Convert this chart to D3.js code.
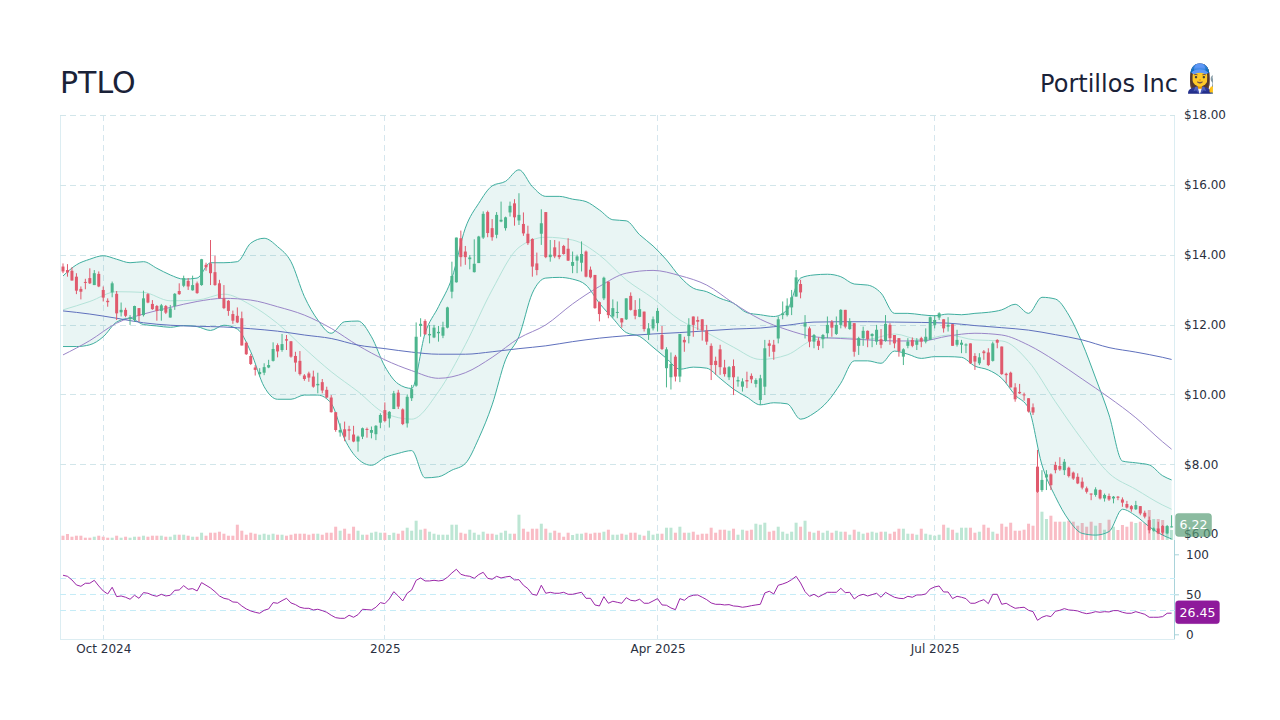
<!DOCTYPE html>
<html>
<head>
<meta charset="utf-8">
<style>
  html, body { margin: 0; padding: 0; background: #fff; }
  svg { display: block; font-family: "DejaVu Sans", sans-serif; }
  .domain { display: none; }
</style>
<script src="https://cdn.jsdelivr.net/npm/d3@7"></script>
</head>
<body>
<svg id="chart" width="1280" height="720"></svg>
<script>
const ticker = "PTLO";
const company = "Portillos Inc";
const emoji = "👩‍🔧";

const dateTicks = [9, 72, 133, 195];
const dateLabels = ["Oct 2024", "2025", "Apr 2025", "Jul 2025"];
const priceTicks = [6, 8, 10, 12, 14, 16, 18];
const rsiTicks = [0, 50, 100];
const rsiGrid = [30, 50, 70];

// daily candles, 249 sessions
const opens = [
  13.66,13.56,13.54,13.37,13.02,13.22,13.33,13.13,13.45,12.99,
  12.68,12.92,12.88,12.35,12.42,12.15,12.13,12.47,12.27,12.87,
  12.59,12.53,12.39,12.53,12.20,12.53,12.96,13.11,13.25,12.98,
  13.18,13.13,13.71,13.75,13.50,13.18,12.75,12.68,12.30,12.25,
  12.18,11.48,11.10,10.77,10.58,10.62,10.77,10.96,11.41,11.27,
  11.58,11.52,11.10,10.96,10.54,10.60,10.51,10.26,10.35,10.13,
  9.91,9.49,8.91,9.00,9.00,8.85,8.65,8.79,9.01,8.90,
  8.86,9.19,9.55,9.31,9.58,10.05,9.57,9.17,9.89,10.25,
  11.96,12.10,11.69,11.63,11.75,11.68,11.91,12.94,13.21,14.47,
  14.09,13.87,13.50,13.76,14.49,15.22,14.76,14.57,14.95,14.76,
  15.21,15.47,14.98,14.88,14.60,14.45,13.75,14.60,15.22,13.93,
  14.21,13.99,14.25,14.17,13.68,13.83,13.77,14.09,13.57,13.42,
  12.64,12.75,13.23,12.23,12.34,12.18,12.15,12.82,12.42,12.22,
  12.37,11.70,11.89,12.04,11.70,10.75,10.49,11.08,10.51,11.56,
  11.67,12.23,12.13,12.15,11.83,11.39,10.96,11.29,10.77,10.49,
  10.81,10.37,10.22,10.41,10.53,10.30,9.84,10.22,11.46,11.42,
  11.60,12.27,12.27,12.49,12.80,13.16,11.94,11.89,11.51,11.54,
  11.58,11.75,12.08,11.73,11.99,12.42,11.87,12.04,11.39,11.61,
  11.82,11.67,11.51,11.58,11.53,11.99,11.70,11.61,11.08,11.39,
  11.56,11.42,11.61,11.51,11.56,11.99,12.20,12.15,11.94,12.01,
  11.42,11.42,11.40,11.46,11.10,10.89,11.23,11.20,10.96,11.56,
  11.37,10.59,10.62,10.20,10.07,10.00,9.89,9.63,7.93,7.26,
  7.62,7.71,7.98,7.95,7.83,7.90,7.76,7.64,7.50,7.31,
  7.16,7.12,7.26,7.02,7.09,7.02,7.07,6.99,6.86,6.80,
  6.71,6.80,6.61,6.40,6.10,6.16,6.23,6.02,6.21
];
const highs = [
  13.75,13.73,13.64,13.47,13.09,13.31,13.61,13.56,13.52,13.09,
  12.75,13.23,12.96,12.63,12.48,12.27,12.54,12.47,12.97,12.90,
  12.70,12.56,12.59,12.56,12.56,12.90,13.18,13.40,13.33,13.40,
  13.23,13.88,13.77,14.42,13.97,13.28,13.13,12.70,12.40,12.49,
  12.37,11.51,11.16,10.84,10.75,10.89,10.99,11.49,11.46,11.73,
  11.70,11.53,11.22,11.24,10.58,10.65,10.68,10.62,10.44,10.22,
  9.98,9.49,9.17,9.22,9.10,9.10,8.82,9.05,9.05,9.08,
  9.12,9.46,9.77,9.52,10.10,10.13,9.60,10.00,10.27,12.06,
  12.18,12.15,11.99,11.99,11.96,12.08,12.51,13.80,14.49,14.69,
  14.25,13.99,14.44,14.54,15.24,15.26,15.02,15.22,15.52,15.09,
  15.52,15.59,15.76,15.21,14.83,14.47,14.06,15.30,15.22,14.42,
  14.42,14.38,14.28,14.47,14.09,14.00,14.38,14.12,13.66,13.42,
  12.66,13.37,13.23,12.72,12.66,12.18,12.75,12.92,12.70,12.75,
  12.37,12.04,12.23,12.47,11.96,11.35,11.20,11.13,11.73,11.65,
  12.18,12.23,12.23,12.15,11.99,11.46,11.08,11.42,10.99,10.81,
  11.00,10.51,10.46,10.65,10.60,10.46,10.56,11.56,11.56,11.56,
  12.23,12.66,12.75,12.99,13.56,13.28,12.27,11.94,11.73,11.63,
  11.73,12.23,12.13,12.23,12.44,12.42,12.18,12.04,11.65,11.94,
  11.83,11.75,11.99,11.87,12.27,12.04,11.70,11.61,11.32,11.61,
  11.63,11.61,11.65,11.89,12.23,12.27,12.35,12.15,12.21,12.01,
  11.85,11.56,11.46,11.46,11.18,11.18,11.27,11.32,11.51,11.58,
  11.37,10.62,10.65,10.32,10.30,10.05,9.89,9.74,8.41,7.83,
  7.83,7.74,8.07,8.20,8.15,7.93,7.79,7.74,7.62,7.36,
  7.16,7.34,7.28,7.16,7.16,7.09,7.09,7.05,6.95,6.83,
  6.95,6.80,6.67,6.50,6.19,6.35,6.26,6.26,6.54
];
const lows = [
  13.47,13.37,13.26,12.87,12.72,13.01,13.16,13.13,13.07,12.66,
  12.51,12.78,12.13,12.23,12.21,11.99,12.08,12.08,12.23,12.61,
  12.42,12.11,12.11,12.30,12.20,12.42,12.85,13.07,12.99,12.97,
  12.88,13.11,13.54,13.13,13.11,12.75,12.44,12.25,12.02,12.04,
  11.40,11.13,10.84,10.54,10.51,10.55,10.75,10.94,11.06,11.22,
  11.27,11.05,10.65,10.54,10.39,10.36,10.19,10.03,10.03,9.89,
  9.48,8.93,8.79,8.66,8.69,8.63,8.36,8.72,8.76,8.74,
  8.69,9.03,9.20,9.05,9.58,9.58,9.12,9.05,9.81,10.22,
  11.65,11.71,11.46,11.61,11.51,11.61,11.89,12.75,13.20,13.66,
  13.71,13.58,13.49,13.76,14.45,14.50,14.40,14.47,14.93,14.69,
  15.09,14.83,14.85,14.54,14.28,13.37,13.41,14.28,13.90,13.80,
  13.90,13.87,14.00,13.82,13.47,13.47,13.52,13.35,13.32,12.45,
  12.09,12.70,12.18,12.18,12.18,11.91,12.13,12.40,12.15,12.21,
  11.80,11.56,11.83,11.80,11.27,10.20,10.14,10.37,10.35,11.22,
  11.46,11.65,11.84,11.54,11.42,10.41,10.56,10.56,10.51,10.41,
  9.98,10.22,10.08,10.18,10.32,10.20,9.70,9.98,11.08,10.99,
  11.46,12.15,12.23,12.27,12.80,12.75,11.60,11.35,11.32,11.27,
  11.32,11.61,11.65,11.70,11.89,11.89,11.85,11.08,11.13,11.39,
  11.35,11.35,11.42,11.32,11.51,11.42,11.32,11.08,10.84,11.32,
  11.35,11.27,11.35,11.46,11.56,11.89,12.13,11.77,11.80,11.39,
  11.37,11.18,11.18,10.87,10.70,10.84,10.99,10.81,10.94,11.32,
  10.56,10.32,10.20,9.79,10.01,9.82,9.48,9.41,7.18,7.21,
  7.26,7.26,7.74,7.81,7.69,7.62,7.55,7.43,7.28,7.16,
  6.97,7.07,6.99,6.93,6.95,6.88,6.97,6.78,6.73,6.64,
  6.69,6.54,6.45,6.02,6.07,6.00,5.97,6.00,6.19
];
const closes = [
  13.52,13.49,13.26,12.97,12.94,13.20,13.18,13.47,13.09,12.77,
  12.64,13.18,12.32,12.42,12.25,12.21,12.53,12.25,12.75,12.63,
  12.44,12.39,12.55,12.34,12.46,12.88,12.87,13.33,13.09,13.13,
  12.90,13.87,13.64,13.47,13.13,12.75,12.47,12.39,12.11,12.06,
  11.40,11.15,10.87,10.70,10.64,10.78,10.84,11.30,11.23,11.44,
  11.54,11.08,10.91,10.58,10.44,10.48,10.22,10.30,10.11,9.91,
  9.49,8.98,8.98,8.79,8.96,8.65,8.79,9.03,8.99,8.98,
  9.10,9.41,9.24,9.50,10.03,9.65,9.15,9.93,10.15,11.65,
  12.02,11.72,11.73,11.91,11.79,11.92,12.49,13.39,14.49,13.93,
  13.93,13.92,13.74,14.52,15.17,14.62,14.50,15.14,15.00,15.07,
  15.40,15.07,15.14,14.61,14.33,13.66,13.56,14.90,13.93,14.00,
  13.95,13.93,14.02,13.83,13.79,13.95,14.02,13.37,13.35,12.47,
  12.30,13.34,12.27,12.47,12.36,12.06,12.75,12.42,12.25,12.44,
  11.87,11.89,12.15,12.39,11.30,11.29,10.87,10.51,11.73,11.49,
  11.99,11.99,12.08,11.83,11.51,10.84,10.84,10.78,10.58,10.78,
  10.49,10.41,10.37,10.37,10.43,10.41,10.46,11.32,11.39,11.22,
  12.15,12.32,12.54,12.78,13.35,12.92,12.04,11.51,11.70,11.39,
  11.70,11.99,11.91,11.99,12.42,11.94,12.10,11.22,11.61,11.82,
  11.58,11.73,11.85,11.42,12.02,11.61,11.46,11.24,11.29,11.51,
  11.39,11.54,11.51,11.65,12.21,12.13,12.32,11.89,11.99,11.39,
  11.56,11.48,11.43,10.89,10.94,11.06,11.18,10.84,11.46,11.48,
  10.58,10.55,10.20,9.86,10.03,9.97,9.51,9.48,7.21,7.55,
  7.71,7.40,7.83,7.85,8.07,7.66,7.59,7.45,7.33,7.21,
  7.14,7.28,7.02,7.12,6.99,7.07,7.04,6.90,6.76,6.71,
  6.83,6.59,6.50,6.11,6.16,6.02,6.04,6.23,6.22
];
const volumes = [
  43,60,33,43,43,23,23,33,43,33,
  23,23,43,23,33,23,33,33,43,33,
  43,43,43,33,33,53,53,53,43,33,
  33,73,43,73,73,83,63,43,43,153,
  93,53,73,63,53,63,53,63,53,53,
  43,53,63,63,63,53,63,63,53,73,
  73,133,93,113,63,133,93,53,53,73,
  83,73,73,50,73,63,93,123,93,193,
  103,113,83,63,53,53,53,153,153,73,
  63,103,73,53,83,63,63,53,73,93,
  63,63,253,113,83,113,113,163,113,73,
  93,73,33,73,50,63,63,73,63,73,
  73,83,103,53,53,63,53,73,73,53,
  43,93,53,63,63,123,123,73,133,73,
  73,83,53,63,63,123,73,103,103,93,
  113,53,103,93,103,163,153,173,83,93,
  133,83,63,83,173,133,193,83,73,93,
  73,93,73,93,83,83,53,103,83,63,
  73,83,73,83,83,63,83,113,113,63,
  63,53,113,63,53,43,53,153,123,103,
  73,123,123,123,73,83,153,123,83,63,
  163,133,173,93,93,103,163,143,730,283,
  210,243,183,183,183,193,183,143,170,133,
  183,143,170,103,203,133,100,150,133,183,
  170,183,167,300,210,210,200,133,100
];
const rsi = [
  73.8,72.5,67.9,61.7,60.0,63.8,63.8,67.5,60.4,54.2,
  50.4,58.8,47.1,47.9,46.3,43.8,48.8,45.0,52.1,51.3,
  48.8,47.5,50.0,47.9,48.8,55.0,55.4,60.8,56.3,57.1,
  54.2,64.6,61.3,57.9,53.3,47.9,45.0,43.8,40.4,40.0,
  35.4,31.7,29.2,27.5,26.3,30.0,31.7,39.6,38.8,42.1,
  45.0,39.2,37.1,33.8,32.5,32.5,30.4,31.3,29.6,27.5,
  23.8,20.8,20.0,20.0,23.8,21.3,24.6,31.3,30.8,30.4,
  33.8,39.6,38.3,44.2,53.3,47.9,41.7,51.3,55.4,67.5,
  70.4,66.7,66.7,67.5,66.7,67.5,71.3,76.7,81.3,75.0,
  73.3,72.5,70.0,74.6,77.5,70.0,68.8,72.5,70.4,71.7,
  72.5,67.9,68.3,61.3,57.1,50.0,48.8,61.3,51.3,52.5,
  51.3,51.3,52.5,50.0,50.0,51.3,52.5,45.0,45.0,36.7,
  35.4,47.1,38.8,41.3,40.0,38.8,45.8,42.5,41.7,43.8,
  38.8,38.8,41.7,44.6,36.7,36.3,32.9,30.8,44.6,42.5,
  47.1,48.8,49.2,46.3,43.3,39.2,37.5,37.5,36.7,37.1,
  35.4,35.0,33.8,34.6,35.8,36.7,37.5,51.7,53.8,50.4,
  61.3,62.9,65.0,68.3,72.5,64.2,53.3,47.5,50.0,46.7,
  49.6,52.5,52.5,52.5,57.5,52.1,52.5,44.2,48.3,50.0,
  47.9,49.6,51.3,46.3,52.5,49.2,46.3,45.0,44.6,47.5,
  46.3,49.2,49.2,50.4,56.7,59.2,60.4,52.9,52.9,44.6,
  47.5,46.3,44.6,38.8,38.8,41.3,43.3,38.3,50.0,50.0,
  37.5,38.8,35.4,32.5,33.3,33.8,30.0,28.3,17.5,21.3,
  23.3,22.1,28.8,30.0,32.1,30.4,30.0,29.2,27.1,25.8,
  26.7,28.3,27.5,28.3,27.9,29.6,29.6,27.5,26.3,26.3,
  28.3,26.7,25.0,21.3,21.3,21.3,22.1,26.3,26.45
];

// bollinger bands, read every third session plus the last one
const bandUpper = [
  13.39,13.71,13.87,13.97,13.87,13.77,13.80,13.61,13.42,13.30,
  13.33,13.77,13.77,13.80,14.33,14.47,14.23,13.80,12.80,12.13,
  11.75,12.08,12.10,11.65,10.80,10.30,10.17,11.75,12.51,13.33,
  14.76,15.47,15.97,16.10,16.43,15.95,15.67,15.67,15.59,15.52,
  15.28,15.00,14.97,14.57,14.25,13.85,13.37,13.04,12.94,12.75,
  12.61,12.34,12.28,12.23,12.42,13.33,13.42,13.44,13.37,13.16,
  13.13,12.90,12.32,12.32,12.28,12.25,12.30,12.28,12.32,12.35,
  12.42,12.58,12.32,12.78,12.73,12.27,11.47,10.47,9.41,8.09,
  8.04,7.98,7.67,7.55
];
const bandLower = [
  11.37,11.37,11.42,11.65,12.07,12.18,12.00,11.96,11.92,11.97,
  11.94,11.83,11.98,11.87,11.22,10.22,9.86,9.86,9.98,9.98,
  9.74,8.72,8.15,7.97,8.19,8.31,8.39,7.61,7.64,7.83,
  8.02,8.74,9.70,10.99,11.66,12.90,13.33,13.35,13.30,13.13,
  12.61,12.18,11.77,11.66,11.35,11.03,10.72,10.78,10.75,10.46,
  10.15,9.92,9.70,9.76,9.73,9.29,9.46,9.79,10.32,10.96,
  10.96,10.89,11.24,11.15,11.03,11.08,11.08,11.06,10.81,10.70,
  10.46,9.98,9.60,7.98,7.07,6.40,6.02,5.97,6.07,6.71,
  6.52,6.21,5.97,5.86
];

// moving averages, read every sixth session plus the last one
const bandMid = [
  12.42,12.66,12.94,12.92,12.68,12.70,12.87,12.56,12.03,11.32,
  10.65,10.08,9.46,9.29,10.08,11.42,12.99,14.21,14.50,14.42,
  13.99,13.28,12.75,12.13,11.77,11.35,11.00,11.13,11.56,11.63,
  11.58,11.73,11.56,11.70,11.56,11.53,10.94,9.79,8.70,7.74,
  7.28,6.83,6.71
];
const sma50 = [
  11.13,11.54,12.04,12.30,12.49,12.66,12.75,12.70,12.51,12.27,
  11.89,11.40,10.99,10.68,10.46,10.62,11.06,11.61,11.99,12.59,
  13.09,13.47,13.55,13.40,13.13,12.61,12.15,11.85,11.65,11.60,
  11.56,11.53,11.53,11.67,11.75,11.70,11.41,10.96,10.44,9.91,
  9.33,8.64,8.43
];
const sma200 = [
  12.39,12.30,12.18,12.05,11.98,11.95,11.93,11.88,11.81,11.70,
  11.60,11.41,11.31,11.21,11.15,11.15,11.22,11.31,11.39,11.51,
  11.61,11.68,11.73,11.77,11.82,11.87,11.90,11.98,12.07,12.08,
  12.08,12.07,12.06,12.04,11.97,11.91,11.84,11.71,11.56,11.34,
  11.21,11.06,11.00
];

const lastPrice = 6.22;
const lastRsi = 26.45;

const bandIdx = d3.range(0, 249, 3).concat(248);
const avgIdx = d3.range(0, 249, 6).concat(248);

const left = 60, right = 1175, priceTop = 115, priceBottom = 540, rsiBottom = 639;
const green = "#4cb58d", red = "#e05a6d";

const svg = d3.select("#chart");
const x = d3.scaleLinear().domain([0, 248]).range([63, 1171.6]);
const yPrice = d3.scaleLinear().domain([5.83, 18]).range([priceBottom, priceTop]);
const yVol = d3.scaleLinear().domain([0, 4250]).range([priceBottom, priceTop]);
const yRsi = d3.scaleLinear().domain([0, 100]).range([634.3, 554.3]);

// Title
svg.append("text").attr("x", 60).attr("y", 93).attr("font-size", 30)
    .attr("fill", "#1a2238").text(ticker);
svg.append("text").attr("x", 1178).attr("y", 92).attr("font-size", 24).attr("text-anchor", "end")
    .attr("fill", "#1a2238").text(company);
// the wrench of this glyph is cut off, the reference figure has none
svg.append("clipPath").attr("id", "emoji-clip").append("rect")
    .attr("x", 1185).attr("y", 60).attr("width", 28).attr("height", 40);
svg.append("text").attr("x", 1186.3).attr("y", 87.6).attr("font-size", 28)
    .attr("clip-path", "url(#emoji-clip)").text(emoji);

// Frame
const frame = svg.append("g").attr("fill", "none");
frame.append("line").attr("x1", left + 0.5).attr("x2", left + 0.5).attr("y1", priceTop).attr("y2", rsiBottom).attr("stroke", "#dcedf2");
frame.append("line").attr("x1", left).attr("x2", right).attr("y1", rsiBottom + 0.5).attr("y2", rsiBottom + 0.5).attr("stroke", "#dcedf2");
frame.append("line").attr("x1", right - 0.5).attr("x2", right - 0.5).attr("y1", priceTop).attr("y2", priceBottom).attr("stroke", "#dcedf2");
frame.append("line").attr("x1", right - 0.5).attr("x2", right - 0.5).attr("y1", priceBottom).attr("y2", rsiBottom).attr("stroke", "#a9d3da");

// Grid
const grid = svg.append("g").attr("fill", "none").attr("stroke-dasharray", "6,4");
grid.selectAll("line.v").data(dateTicks).join("line").attr("class", "v")
    .attr("x1", (d) => Math.floor(x(d)) + 0.5).attr("x2", (d) => Math.floor(x(d)) + 0.5)
    .attr("y1", priceTop).attr("y2", rsiBottom).attr("stroke", "#d5e6ee");
grid.selectAll("line.h").data(priceTicks.filter((d) => d > 6)).join("line").attr("class", "h")
    .attr("x1", left).attr("x2", right)
    .attr("y1", (d) => Math.round(yPrice(d)) + 0.5).attr("y2", (d) => Math.round(yPrice(d)) + 0.5)
    .attr("stroke", "#d2e6ea");
grid.selectAll("line.r").data(rsiGrid).join("line").attr("class", "r")
    .attr("x1", left).attr("x2", right)
    .attr("y1", (d) => Math.round(yRsi(d)) + 0.5).attr("y2", (d) => Math.round(yRsi(d)) + 0.5)
    .attr("stroke", "#c6ecf7");

// Volume
svg.append("g").selectAll("rect").data(volumes).join("rect")
    .attr("x", (d, i) => x(i) - 1.5)
    .attr("width", 3)
    .attr("y", (d) => yVol(d))
    .attr("height", (d) => priceBottom - yVol(d))
    .attr("fill", (d, i) => (closes[i] >= opens[i] ? "#bde6d4" : "#f9bcc5"));

// Bollinger band
const bandLine = (values, idx) => d3.line().curve(d3.curveMonotoneX)
    .x((d, k) => x(idx[k])).y((d) => yPrice(d))(values);
svg.append("path")
    .attr("d", d3.area().curve(d3.curveMonotoneX).x((d) => x(d))
        .y0((d, k) => yPrice(bandLower[k])).y1((d, k) => yPrice(bandUpper[k]))(bandIdx))
    .attr("fill", "#2a9d8f").attr("fill-opacity", 0.1);

const lines = svg.append("g").attr("fill", "none");
lines.append("path").attr("d", bandLine(bandMid, avgIdx)).attr("stroke", "#b4e3d9").attr("stroke-width", 1);
lines.append("path").attr("d", bandLine(bandUpper, bandIdx)).attr("stroke", "#3fae9f").attr("stroke-width", 1);
lines.append("path").attr("d", bandLine(bandLower, bandIdx)).attr("stroke", "#3fae9f").attr("stroke-width", 1);
lines.append("path").attr("d", bandLine(sma50, avgIdx)).attr("stroke", "#9a86c8").attr("stroke-width", 1);
lines.append("path").attr("d", bandLine(sma200, avgIdx)).attr("stroke", "#5f70bd").attr("stroke-width", 1);

// Candles
const candles = svg.append("g").selectAll("g").data(closes).join("g");
candles.append("line")
    .attr("x1", (d, i) => x(i)).attr("x2", (d, i) => x(i))
    .attr("y1", (d, i) => yPrice(highs[i])).attr("y2", (d, i) => yPrice(lows[i]))
    .attr("stroke", (d, i) => (closes[i] >= opens[i] ? green : red)).attr("stroke-width", 1);
candles.append("rect")
    .attr("x", (d, i) => x(i) - 1.5).attr("width", 3)
    .attr("y", (d, i) => yPrice(Math.max(opens[i], closes[i])))
    .attr("height", (d, i) => Math.max(1, Math.abs(yPrice(opens[i]) - yPrice(closes[i]))))
    .attr("fill", (d, i) => (closes[i] >= opens[i] ? green : red));

// RSI
svg.append("path")
    .attr("d", d3.line().x((d, i) => x(i)).y((d) => yRsi(d))(rsi))
    .attr("fill", "none").attr("stroke", "#9b27a8").attr("stroke-width", 1);

// Axes
const styleAxis = (g) => {
    g.selectAll("text").attr("fill", "#2a3040").attr("font-size", 12).attr("font-family", '"DejaVu Sans", sans-serif');
    g.selectAll("line").attr("stroke", "#a9d3da");
};
svg.append("g").attr("transform", `translate(${right},0)`)
    .call(d3.axisRight(yPrice).tickValues(priceTicks).tickFormat((d) => `$${d.toFixed(2)}`).tickSize(0).tickPadding(9))
    .call(styleAxis);
svg.append("g").attr("transform", `translate(${right},0)`)
    .call(d3.axisRight(yRsi).tickValues(rsiTicks).tickSize(4).tickPadding(7))
    .call(styleAxis);
svg.append("g").attr("transform", `translate(0,${rsiBottom})`)
    .call(d3.axisBottom(x).tickValues(dateTicks).tickFormat((d, i) => dateLabels[i]).tickSize(0).tickPadding(5))
    .call(styleAxis);

// Last value labels
function addValueLabel(yPos, width, fill, opacity, text) {
    const g = svg.append("g").attr("transform", `translate(${right + 0.5},${yPos})`);
    g.append("rect").attr("y", -11.5).attr("width", width).attr("height", 23).attr("rx", 3)
        .attr("fill", fill).attr("fill-opacity", opacity)
        .attr("stroke", fill).attr("stroke-opacity", 0.3);
    g.append("text").attr("x", width / 2).attr("dy", "0.35em").attr("text-anchor", "middle")
        .attr("font-size", 12.5).attr("fill", "#fff").text(text);
}
addValueLabel(yPrice(lastPrice) - 1.4, 36, "#5a9e78", 0.7, lastPrice.toFixed(2));
addValueLabel(yRsi(lastRsi) - 1, 44, "#8e1a9b", 1, lastRsi.toFixed(2));
</script>
</body>
</html>
